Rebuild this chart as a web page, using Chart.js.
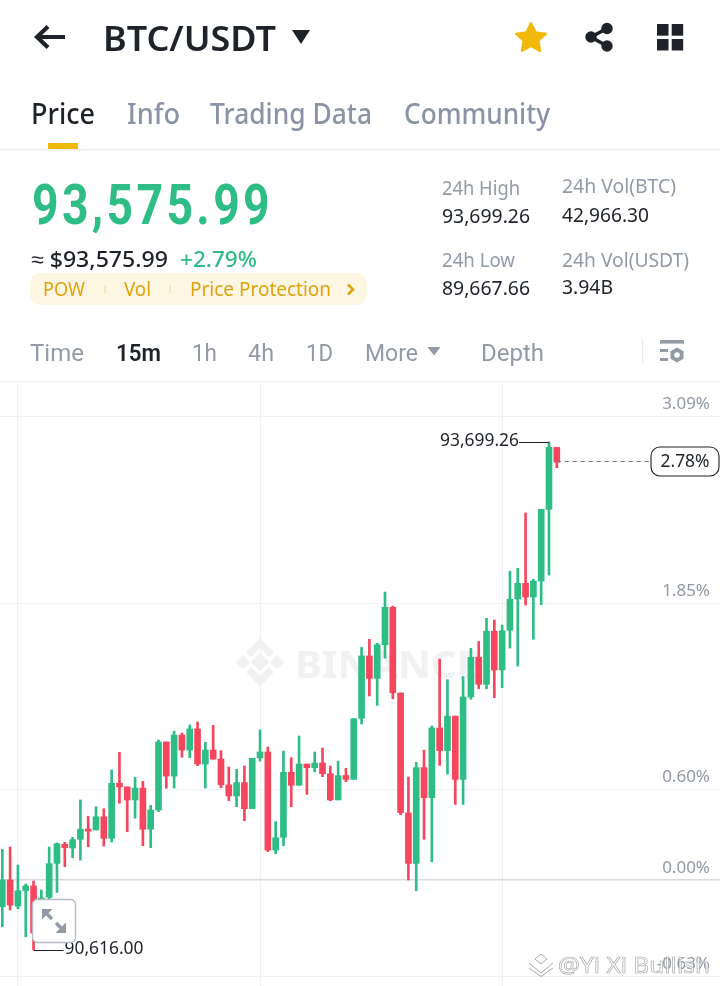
<!DOCTYPE html>
<html><head><meta charset="utf-8">
<script src="https://cdn.jsdelivr.net/npm/chart.js@4"></script>
<style>
html,body{margin:0;padding:0;background:#fff;width:720px;height:986px;overflow:hidden}
#wrap{position:relative;width:720px;height:986px;overflow:hidden}
.t{position:absolute;white-space:nowrap;transform-origin:0 50%;}
svg{position:absolute;left:0;top:0}
canvas{position:absolute;left:0;top:382px}
</style></head>
<body><div id="wrap">
<svg id="under" width="720" height="986" style="z-index:0">
  <g fill="#F0F1F2" transform="translate(260,662)">
    <rect x="-6.5" y="-6.5" width="13" height="13" transform="rotate(45)"/>
    <path d="M-24 0l7-7 7 7-7 7zM24 0l-7-7-7 7 7 7z"/>
    <path d="M0-24L14-10 9-5 0-14-9-5-14-10zM0 24L14 10 9 5 0 14-9 5-14 10z"/>
  </g>
</svg>
<canvas id="c" width="720" height="604" style="z-index:1"></canvas>
<svg id="over" width="720" height="986" style="z-index:2">
  <path d="M65 37H38M48 26.5L37 37l11 10.5" fill="none" stroke="#1E2329" stroke-width="4.2"/>
  <path d="M292 30h18l-9 14z" fill="#1E2329"/>
  <path d="M531 23l4.6 9.2 10.4 1.5-7.5 7.2 1.8 10.1-9.3-4.8-9.3 4.8 1.8-10.1-7.5-7.2 10.4-1.5z" fill="#F0B90B" stroke="#F0B90B" stroke-width="2" stroke-linejoin="round"/>
  <g fill="#1E2329"><circle cx="607" cy="28.5" r="5.7"/><circle cx="591" cy="37" r="5.7"/><circle cx="607" cy="46" r="5.7"/></g>
  <path d="M607 28.5L591 37l16 9" fill="none" stroke="#1E2329" stroke-width="3.6"/>
  <g fill="#1E2329"><rect x="657" y="24" width="11.5" height="11.7"/><rect x="671.7" y="24" width="11.5" height="11.7"/><rect x="657" y="39" width="11.5" height="11.5"/><rect x="671.7" y="39" width="11.5" height="11.5"/></g>
  <rect x="48" y="143" width="30" height="6" fill="#F0B90B"/>
  <rect x="0" y="149" width="720" height="1.3" fill="#EAECEF"/>
  <rect x="30" y="273" width="337" height="32" rx="10" fill="#FDF6E3"/>
  <rect x="104" y="285" width="2" height="8" fill="#F5E6B8"/><rect x="169" y="285" width="2" height="8" fill="#F5E6B8"/>
  <path d="M348 284.5l5 5-5 5" fill="none" stroke="#E0A30E" stroke-width="2.6"/>
  <path d="M427.5 347h13l-6.5 8.5z" fill="#929AA5"/>
  <rect x="642" y="339" width="1.2" height="25" fill="#E6E8EA"/>
  <g fill="#929AA5"><rect x="660" y="340" width="24" height="3.6"/><rect x="660" y="349" width="8" height="3"/><rect x="660" y="358" width="8" height="3"/>
    <path d="M677 347.5l6.5 3.7v7.5l-6.5 3.8-6.5-3.8v-7.5z"/></g><circle cx="677" cy="355" r="2.8" fill="#fff"/>
  <rect x="0" y="381" width="720" height="1.6" fill="#F2F3F5"/>
  <rect x="32.5" y="899.5" width="43" height="43" rx="5" fill="#fff" fill-opacity=".97" stroke="#B7BDC6" stroke-width="1.4"/>
  <g fill="#929AA5"><path d="M42 909h10.500l-10.500 10.500zM66 933h-10.500l10.500-10.500z"/></g>
  <path d="M46 913l6 6M62 929l-6-6" stroke="#929AA5" stroke-width="3.4"/>
  <g fill="none" stroke="#9a9a9a" stroke-width="1" opacity=".85"><path d="M541 954l6 5-6 5-6-5zM529 963l12 10 12-10M529 968l12 8.500 12-8.500" stroke-linejoin="round"/></g>
</svg>
</div>
<script>
// Candles, price in USDT (15m BTC/USDT)
const candleIndex = Array.from({length:72},(_,i)=>i);
const opens  = [90878,91040,90882,90975,91004,90846,90935,91141,91257,91234,91287,91348,91344,91424,91293,91627,91605,91526,91598,91348,91465,91878,91671,91920,91829,91957,91744,91829,91774,91617,91550,91631,91473,91781,91817,91222,91299,91694,91615,91744,91722,91750,91685,91526,91674,91651,92022,92400,92264,92468,92695,92175,91447,91141,91722,91540,91963,91825,92035,91651,92151,92392,92228,92550,92315,92556,92746,92841,92758,92855,93290,93666];
const highs  = [91226,91240,91131,91016,91034,90979,91240,91265,91269,91299,91526,91427,91485,91473,91708,91815,91605,91663,91639,91493,91890,91878,91944,91932,91981,91999,91876,91979,91825,91726,91712,91732,91779,91951,91847,91394,91823,91782,91914,91744,91817,91841,91732,91762,91718,92019,92452,92501,92477,92788,92703,92175,91665,91754,91829,91975,92381,92256,92035,92274,92446,92488,92629,92618,92588,92914,92932,93268,92865,93290,93699.26,93666];
const lows   = [90757,90858,90866,90696,90616,90809,90925,90965,91121,91175,91161,91242,91344,91246,91271,91506,91333,91415,91248,91236,91455,91597,91598,91785,91782,91734,91598,91774,91600,91521,91485,91400,91473,91761,91212,91200,91248,91485,91615,91560,91697,91667,91521,91526,91637,91651,91987,92157,92100,92386,92140,91436,91040,90975,91287,91151,91736,91683,91499,91499,92137,92201,92201,92147,92207,92448,92339,92709,92501,92711,92891,93543];
const closes = [91040,90888,90975,91004,90718,90931,91139,91260,91236,91285,91348,91337,91424,91293,91627,91605,91526,91598,91348,91465,91878,91671,91920,91829,91957,91744,91829,91774,91618,91550,91631,91473,91779,91817,91222,91297,91694,91615,91744,91722,91750,91685,91526,91673,91651,92019,92400,92264,92468,92695,92177,91449,91141,91722,91540,91963,91825,92035,91651,92151,92392,92228,92550,92315,92553,92744,92841,92758,92855,93290,93666,93575.99];
// Axis
const gridPrices = [90457,91040,91592,92721,93856];
const gridPercents = ['-0.63%','0.00%','0.60%','1.85%','3.09%'];
const gridCandles = [2,33,64];
const basePrice = 91040, highPrice = 93699.26, lowPrice = 90616, lastPrice = 93575.99;
const highText = '93,699.26', lowText = '90,616.00', lastPercent = '2.78%';
const UP = '#2EBD85', DOWN = '#F6465D', INK = '#1E2329', GREY = '#929AA5', GOLD = '#E0A30E';
const FONT = '"Noto Sans"';
// text, x, centre y, width, size, weight, colour, family
const labels = [
 ['BTC/USDT',103,37.5,173,35,600,INK,FONT],
 ['Price',31,113,64,28,500,INK,FONT],
 ['Info',127,113,53,28,500,'#8A94A6',FONT],
 ['Trading Data',210,113,162,28,500,'#8A94A6',FONT],
 ['Community',404,113,146,28,500,'#8A94A6',FONT],
 ['≈ $93,575.99',31,258,137,22,500,INK,FONT],
 ['+2.79%',180,258,77,22,500,UP,FONT],
 ['POW',43,289,42,20,400,GOLD,FONT],
 ['Vol',124,289,27,20,400,GOLD,FONT],
 ['Price Protection',190,289,141,20,400,GOLD,FONT],
 ['24h High',442,188,78,19,400,GREY,FONT],
 ['93,699.26',442,216,88,19,400,INK,FONT],
 ['24h Vol(BTC)',562,186,114,19,400,GREY,FONT],
 ['42,966.30',562,215,87,19,400,INK,FONT],
 ['24h Low',442,260,73,19,400,GREY,FONT],
 ['89,667.66',442,288,88,19,400,INK,FONT],
 ['24h Vol(USDT)',562,260,127,19,400,GREY,FONT],
 ['3.94B',562,287,51,19,400,INK,FONT],
 ['Time',30,353,54,24,400,GREY,'Roboto'],
 ['15m',115.500,353,45,24,600,INK,'Roboto'],
 ['1h',192,353,25,24,400,GREY,'Roboto'],
 ['4h',248,353,26,24,400,GREY,'Roboto'],
 ['1D',306,353,27,24,400,GREY,'Roboto'],
 ['More',365,353,53,24,400,GREY,'Roboto'],
 ['Depth',481,353,63,24,400,GREY,'Roboto']
];
const wrap = document.getElementById('wrap');
function addText(text,x,yc,w,size,weight,color,family,z,extra){
  const el=document.createElement('div');
  el.className='t';el.textContent=text;
  el.style.cssText+=`left:${x}px;top:${yc-size/2}px;line-height:${size}px;font-size:${size}px;font-weight:${weight};color:${color};font-family:${family},sans-serif;z-index:${z};`+(extra||'');
  wrap.appendChild(el);
  const r=el.getBoundingClientRect().width;
  el.style.transform=`scaleX(${w/r})`;
}
labels.forEach(l=>addText(l[0],l[1],l[2],l[3],l[4],l[5],l[6],l[7],3));
addText('93,575.99',32,204.5,241,56,700,UP,'Roboto',3,'letter-spacing:4px;');
addText('BINANCE',295,663,184,38,700,'#F0F1F2',FONT,0);
addText('@Yi Xi Bullish',558,964,152,22,400,'#fff',FONT,4,'-webkit-text-stroke:.6px #999;opacity:.9;');

const annotate = {
  id:'annotate',
  afterDatasetsDraw(chart){
    const {ctx,scales:{x,y}} = chart;
    ctx.save();
    ctx.font = '17.4px '+FONT; ctx.textBaseline='middle'; ctx.fillStyle=INK; ctx.strokeStyle=INK; ctx.lineWidth=1;
    const hx=x.getPixelForValue(70), hy=Math.round(y.getPixelForValue(highPrice))+.5;
    ctx.beginPath();ctx.moveTo(hx-30,hy);ctx.lineTo(hx,hy);ctx.stroke();
    ctx.textAlign='right';ctx.fillText(highText,hx-30,hy-1);
    const lx=x.getPixelForValue(4), ly=Math.round(y.getPixelForValue(lowPrice))+.5;
    ctx.beginPath();ctx.moveTo(lx,ly);ctx.lineTo(lx+30,ly);ctx.stroke();
    ctx.textAlign='left';ctx.fillText(lowText,lx+31,ly-1);
    const ex=x.getPixelForValue(71), ey=Math.round(y.getPixelForValue(lastPrice))-.5;
    ctx.strokeStyle='#6A6F78';ctx.lineWidth=1.2;ctx.setLineDash([4,4]);
    ctx.beginPath();ctx.moveTo(ex,ey);ctx.lineTo(650,ey);ctx.stroke();
    ctx.setLineDash([]);
    ctx.fillStyle='#fff';ctx.strokeStyle=INK;ctx.lineWidth=1.1;
    ctx.beginPath();ctx.roundRect(651,ey-14.500,68,29,9);ctx.fill();ctx.stroke();
    ctx.fillStyle=INK;ctx.textAlign='center';ctx.fillText(lastPercent,685,ey+1);
    ctx.restore();
  }
};
const colors = candleIndex.map(i=>closes[i]>=opens[i]?UP:DOWN);
new Chart(document.getElementById('c'),{
  type:'bar',
  data:{datasets:[
    {label:'wick',data:candleIndex.map(i=>({x:i,y:[lows[i],highs[i]]})),backgroundColor:colors,barThickness:2,grouped:false,borderWidth:0,order:2},
    {label:'body',data:candleIndex.map(i=>({x:i,y:[opens[i],closes[i]]})),backgroundColor:colors,barThickness:6,grouped:false,borderWidth:0,minBarLength:2,order:1}
  ]},
  options:{
    responsive:false,animation:false,events:[],
    layout:{padding:0},
    plugins:{legend:{display:false},tooltip:{enabled:false},title:{display:false}},
    scales:{
      x:{type:'linear',offset:false,min:-0.295,max:91.895,border:{display:false},
        ticks:{display:false},
        grid:{offset:false,color:'#F0F1F3',lineWidth:1,drawTicks:false},
        afterBuildTicks(a){a.ticks=gridCandles.map(v=>({value:v}));},
        afterFit(a){a.height=0;a.paddingLeft=0;a.paddingRight=0;}},
      y:{type:'linear',position:'right',min:90396.6,max:94062.9,border:{display:false},
        grid:{drawTicks:false,color:c=>c.tick&&c.tick.value===basePrice?'#D8DCE1':'#F0F1F3',lineWidth:c=>c.tick&&c.tick.value===basePrice?1.6:1},
        afterBuildTicks(a){a.ticks=gridPrices.map(v=>({value:v}));},
        afterFit(a){a.width=0;a.paddingTop=0;a.paddingBottom=0;},
        ticks:{mirror:true,autoSkip:false,padding:-10,color:GREY,font:{family:FONT,size:17,lineHeight:'24px'},
          callback:(v,i)=>[gridPercents[i],'']}}
    }
  },
  plugins:[annotate]
});
</script>
</body></html>
